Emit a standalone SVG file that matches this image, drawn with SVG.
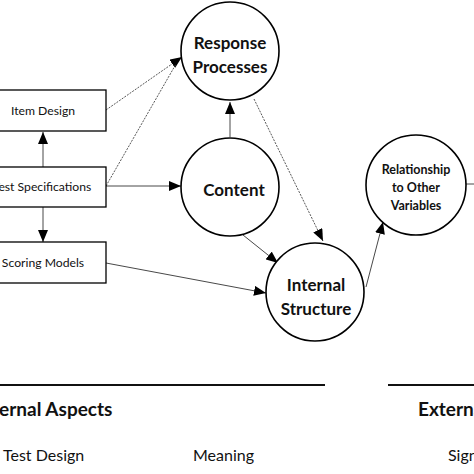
<svg xmlns="http://www.w3.org/2000/svg" width="474" height="474" viewBox="0 0 474 474">
<defs>
<marker id="ah" viewBox="0 0 12 10" refX="12" refY="5" markerWidth="12" markerHeight="10" markerUnits="userSpaceOnUse" orient="auto">
<path d="M0,0 L12,5 L0,10 Z" fill="#000"/>
</marker>
<style>
.box{fill:#fff;stroke:#000;stroke-width:1.3}
.circ{fill:#fff;stroke:#000;stroke-width:1.6}
.bt{font-family:Lato,"Liberation Sans",sans-serif;font-size:12.2px;fill:#111;text-anchor:middle}
.ct{font-family:Lato,"Liberation Sans",sans-serif;font-size:17px;font-weight:bold;fill:#111;text-anchor:middle}
.rt{font-family:Lato,"Liberation Sans",sans-serif;font-size:12.5px;font-weight:bold;fill:#111;text-anchor:middle}
.hd{font-family:Lato,"Liberation Sans",sans-serif;font-size:19px;font-weight:bold;fill:#111}
.lb{font-family:Lato,"Liberation Sans",sans-serif;font-size:16px;fill:#111}
.ln{fill:none;stroke:#333;stroke-width:0.9}
.dl{fill:none;stroke:#444;stroke-width:0.9;stroke-dasharray:2 1.2}
</style>
</defs>
<g id="connectors">
<line class="ln" x1="43" y1="167" x2="43" y2="132" marker-end="url(#ah)"/>
<line class="ln" x1="43" y1="207" x2="43" y2="242" marker-end="url(#ah)"/>
<line class="dl" x1="106" y1="110" x2="182" y2="57" marker-end="url(#ah)"/>
<line class="dl" x1="106" y1="186" x2="176" y2="64"/>
<line class="ln" x1="106" y1="186" x2="181" y2="186" marker-end="url(#ah)"/>
<line class="ln" x1="230" y1="137" x2="230" y2="102" marker-end="url(#ah)"/>
<line class="dl" x1="254" y1="99" x2="323" y2="241" marker-end="url(#ah)"/>
<line class="ln" x1="243" y1="235" x2="278" y2="263" marker-end="url(#ah)"/>
<line class="ln" x1="106" y1="263" x2="266" y2="293" marker-end="url(#ah)"/>
<line class="ln" x1="366" y1="287" x2="383" y2="222" marker-end="url(#ah)"/>
<line class="ln" x1="466" y1="184" x2="474" y2="184" stroke="#888"/>
</g>
<g id="item-design">
<rect class="box" x="-20" y="90" width="126" height="41"/>
<text class="bt" x="43" y="115">Item Design</text>
</g>
<g id="test-specifications">
<rect class="box" x="-20" y="167" width="126" height="40"/>
<text class="bt" x="42" y="191">Test Specifications</text>
</g>
<g id="scoring-models">
<rect class="box" x="-20" y="242" width="126" height="41"/>
<text class="bt" x="43" y="267">Scoring Models</text>
</g>
<g id="response-processes">
<circle class="circ" cx="230" cy="51" r="49"/>
<text class="ct" x="230" y="49">Response</text>
<text class="ct" x="230" y="73">Processes</text>
</g>
<g id="content">
<circle class="circ" cx="230" cy="187" r="49"/>
<text class="ct" x="234" y="196">Content</text>
</g>
<g id="internal-structure">
<circle class="circ" cx="315" cy="292" r="49"/>
<text class="ct" x="316" y="291">Internal</text>
<text class="ct" x="316" y="315">Structure</text>
</g>
<g id="relationship">
<circle class="circ" cx="416" cy="185" r="50"/>
<text class="rt" x="416" y="174">Relationship</text>
<text class="rt" x="416" y="192">to Other</text>
<text class="rt" x="416" y="210">Variables</text>
</g>
<g id="footer">
<line x1="0" y1="385" x2="325" y2="385" stroke="#111" stroke-width="2"/>
<line x1="388" y1="385" x2="474" y2="385" stroke="#111" stroke-width="2"/>
<text class="hd" x="-24" y="416">Internal Aspects</text>
<text class="hd" x="418" y="416">External Aspects</text>
<text class="lb" x="3" y="461">Test Design</text>
<text class="lb" x="193" y="461">Meaning</text>
<text class="lb" x="448" y="461">Significance</text>
</g>
</svg>
